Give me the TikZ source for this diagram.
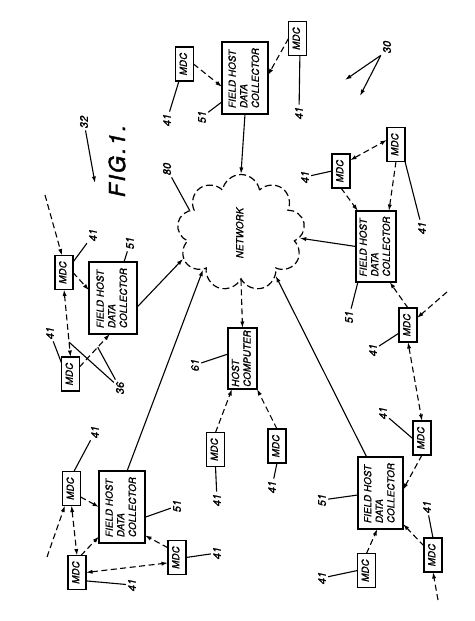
\documentclass[tikz,border=0pt]{standalone}
\usepackage{fontspec}
\usepackage{graphicx}
\setmainfont{TeX Gyre Heros}
\newfontfamily\pat[LetterSpace=1,FakeBold=1.2]{TeX Gyre Heros}
\newfontfamily\patwide[LetterSpace=10,FakeBold=2]{TeX Gyre Heros}
\usetikzlibrary{arrows.meta,shapes.symbols}
\newcommand{\vt}[1]{\rotatebox{90}{\begin{tabular}{@{}l@{}}#1\end{tabular}}}
\tikzset{
  box/.style={draw,line width=1.8pt,inner sep=0pt,outer sep=0pt,font=\fontsize{9.8}{11.6}\selectfont\pat\itshape},
  fhdc/.style={box,minimum width=46pt,minimum height=72pt},
  mdc/.style={box,minimum width=18pt,minimum height=34pt},
  num/.style={inner sep=2pt,font=\fontsize{11}{12}\selectfont\pat\itshape},
  tip/.tip={Latex[length=6.5pt,width=4.2pt]},
  lead/.style={line width=1.1pt},
  feed/.style={line width=1.1pt,-tip},
  link/.style={line width=1.1pt,dash pattern=on 6pt off 3.5pt,-tip},
  link2/.style={link,tip-tip}
}
\begin{document}
\begin{tikzpicture}[x=1pt,y=-1pt]
\useasboundingbox (0,0) rectangle (474,621);
\node[cloud,cloud puffs=9,cloud puff arc=160,cloud ignores aspect,draw,line width=1.2pt,dash pattern=on 7pt off 3.5pt,minimum width=128pt,minimum height=117pt,inner sep=0pt,font=\fontsize{9.8}{11.6}\selectfont\pat\itshape] (net) at (241,233) {\vt{NETWORK}};
\node[fhdc] (fhA) at (245,78) {\vt{FIELD HOST\\DATA\\COLLECTOR}};
\node[fhdc,minimum width=40pt,minimum height=71pt] (fhB) at (376,246.5) {\vt{FIELD HOST\\DATA\\COLLECTOR}};
\node[fhdc,minimum width=45pt] (fhC) at (380.5,493) {\vt{FIELD HOST\\DATA\\COLLECTOR}};
\node[fhdc] (fhD) at (122,507) {\vt{FIELD HOST\\DATA\\COLLECTOR}};
\node[fhdc,minimum width=48pt] (fhE) at (113,298) {\vt{FIELD HOST\\DATA\\COLLECTOR}};
\node[box,minimum width=29pt,minimum height=61pt] (host) at (242.5,358.5) {\vt{HOST\\COMPUTER}};
\foreach \n/\x/\y in {mA1/184.5/64,mA2/297.5/38.5,mB1/341/171,mB2/396/144.5,mB3/408/325,
  mC1/422/438,mC2/366.5/570.5,mC3/433/555,mH1/215.5/449.5,mH2/277/446,
  mD1/71.5/488.5,mD2/77/572.5,mD3/177/557.5,mE1/64/272.5,mE2/70.5/374}
  \node[mdc] (\n) at (\x,\y) {\vt{MDC}};
\foreach \n/\x/\y/\t in {l41a/167/120/41,l51a/202/117/51,l41b/299/113/41,l80/167/169/80,
  l30/387/47/30,l32/84/122/32,l41c/305/177/41,l41d/422/228/41,l51b/349/317/51,
  l41e/373/350/41,l41f/383/413/41,l51c/322/500/51,l41g/322/578/41,l41h/427/507/41,
  l61/195/365/61,l41i/217/500/41,l41j/272/487/41,l51d/177/506/51,l41k/95/432/41,
  l41l/217/553/41,l41m/132/585/41,l41n/93/235/41,l51e/130/243/51,l41o/50/333/41,
  l36/120/388/36}
  \node[num] (\n) at (\x,\y) {\rotatebox{90}{\t}};
\node[font=\fontsize{22}{22}\selectfont\patwide\itshape] (fig) at (117,161) {\rotatebox{90}{FIG.1.}};
\coordinate (c30a) at (345,80);
\coordinate (c30b) at (360,96);
\coordinate (c32) at (95,183);
\coordinate (cB) at (447,292);
\coordinate (cC) at (438,600);
\coordinate (cD) at (47,557);
\coordinate (cE) at (45,195);
% collectors to network
\draw[feed] (fhA.south) -- (net.north);
\draw[feed] (fhB.west) -- (net.355);
\draw[feed] (fhC.111) -- (net.309);
\draw[feed] (fhD.82) -- (net.224);
\draw[feed] (fhE.339) -- (net.204);
\draw[link] (net.south) -- (host.north);
% meter links
\draw[link] (mA1.east) -- (fhA.201);
\draw[link] (mA2.west) -- (fhA.7);
\draw[link2] (mB1.50) -- (mB2.153);
\draw[link] (mB1.south) -- (fhB.117);
\draw[link] (mB2.south) -- (fhB.70);
\draw[link] (mB3.north) -- (fhB.291);
\draw[link] (cB) -- (mB3.38);
\draw[link2] (mB3.south) -- (mC1.north);
\draw[link] (mC1.south) -- (fhC.8);
\draw[link] (mC2.north) -- (fhC.265);
\draw[link] (mC3.135) -- (fhC.306);
\draw[link] (cC) -- (mC3.south);
\draw[link] (mH1.north) -- (host.251);
\draw[link] (mH2.north) -- (host.south east);
\draw[link] (cD) -- (mD1.249);
\draw[link] (mD1.317) -- (fhD.west);
\draw[link2] (mD1.south) -- (mD2.north);
\draw[link] (mD2.77) -- (fhD.232);
\draw[link] (mD3.133) -- (fhD.309);
\draw[link2] (mD2.east) -- (mD3.211);
\draw[link] (cE) -- (mE1.97);
\draw[link] (mE1.east) -- (fhE.162);
\draw[link2] (mE1.south) -- coordinate[pos=0.78] (e12) (mE2.north);
\draw[link] (mE2.38) -- coordinate[pos=0.6] (e2f) (fhE.265);
% reference numerals
\foreach \a/\b in {l41a/mA1.252,l51a/fhA.226,l41b/mA2.278,l80/net.156,l41c/mB1.west,
  l41d/mB2.south east,l51b/fhB.243,l41e/mB3.222,l41f/mC1.185,l51c/fhC.185,
  l41g/mC2.west,l41h/mC3.north,l61/host.163,l41i/mH1.south,l41j/mH2.south,
  l51d/fhD.336,l41k/mD1.82,l41l/mD3.east,l41m/mD2.317,l41n/mE1.49,l51e/fhE.73,
  l41o/mE2.129,l36/e12,l36/e2f}
  \draw[lead] (\a) -- (\b);
\draw[feed] (l30.south west) -- (c30a);
\draw[feed] (l30.south west) -- (c30b);
\draw[feed] (l32) -- (c32);
\end{tikzpicture}
\end{document}
